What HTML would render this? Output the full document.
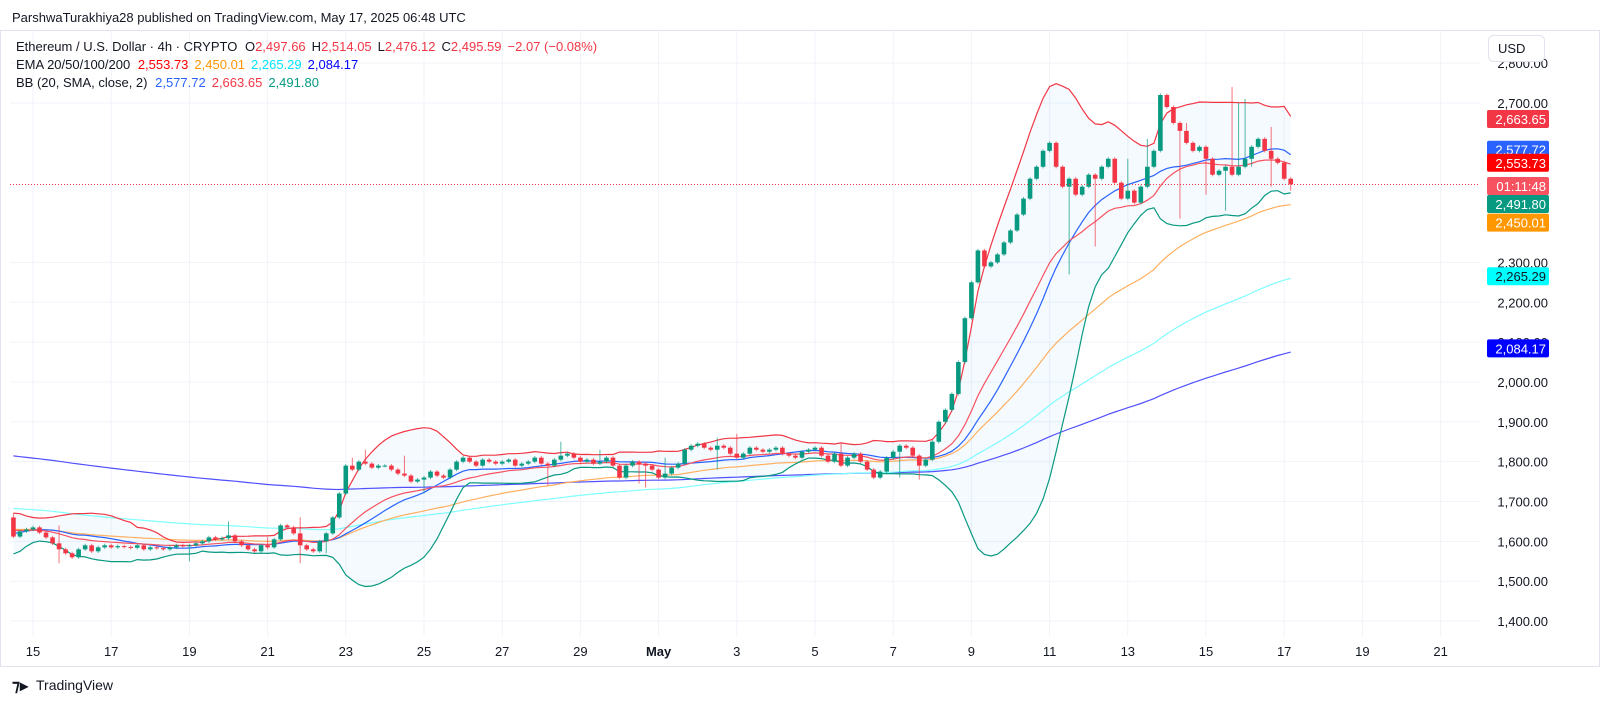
<!DOCTYPE html>
<html><head><meta charset="utf-8"><style>
body{margin:0;background:#fff;width:1600px;height:718px;overflow:hidden;font-family:"Liberation Sans",sans-serif}
svg{position:absolute;left:0;top:0}
</style></head><body>
<svg id="chart" width="1600" height="718" xmlns="http://www.w3.org/2000/svg">
<text x="12" y="22" font-size="13" fill="#131722">ParshwaTurakhiya28 published on TradingView.com, May 17, 2025 06:48 UTC</text>
<rect x="0.5" y="30.5" width="1599" height="636" fill="none" stroke="#e0e3eb"/>
<g id="grid"></g>
<path id="bbfill" fill="rgba(33,150,243,0.05)"/>
<g id="lines"></g>
<g id="candles"></g>
<line x1="10" x2="1480" y1="184.5" y2="184.5" stroke="#f23645" stroke-dasharray="1,2"/>
<g id="xaxis"></g>
<g id="yaxis"></g>
<g font-size="13">
<text x="16" y="51" fill="#131722">Ethereum / U.S. Dollar · 4h · CRYPTO <tspan dx="4">O</tspan><tspan fill="#f23645">2,497.66</tspan><tspan dx="6">H</tspan><tspan fill="#f23645">2,514.05</tspan><tspan dx="6">L</tspan><tspan fill="#f23645">2,476.12</tspan><tspan dx="6">C</tspan><tspan fill="#f23645">2,495.59</tspan><tspan dx="6" fill="#f23645">−2.07 (−0.08%)</tspan></text>
<text x="16" y="69" fill="#131722">EMA 20/50/100/200 <tspan dx="4" fill="#ff0000">2,553.73</tspan><tspan dx="6" fill="#ff9800">2,450.01</tspan><tspan dx="6" fill="#00e5ff">2,265.29</tspan><tspan dx="6" fill="#0000ff">2,084.17</tspan></text>
<text x="16" y="87" fill="#131722">BB (20, SMA, close, 2) <tspan dx="4" fill="#2962ff">2,577.72</tspan><tspan dx="6" fill="#f23645">2,663.65</tspan><tspan dx="6" fill="#089981">2,491.80</tspan></text>
</g>
<g id="yaxisTop"></g>
<g><rect x="1488.5" y="35.5" width="56" height="26" rx="5" fill="#fff" stroke="#e0e3eb"/><text x="1498" y="53" font-size="13" fill="#131722">USD</text></g>
<g id="tags"></g>
<g><text x="12" y="691" font-size="16" font-weight="bold" fill="#131722">⁊▸</text><text x="36" y="690" font-size="14" fill="#131722">TradingView</text></g>
</svg>
<script>
const warmCloses=[1590,1575,1560,1580,1600,1620,1610,1630,1645,1640,1620,1600,1615,1630,1625,1640,1650,1645,1635,1660];
const closes=[1612,1625,1630,
1635,1622,1610,1595,1580,1570, 1560,1580,1590,1575,1585,1590, 1585,1588,1586,1584,1590,1580,
1585,1583,1580,1585,1590,1588, 1590,1595,1600,1610,1605,1608, 1615,1600,1590,1580,1575,1590,
1585,1605,1640,1635,1620,1590, 1580,1575,1600,1620,1660,1720, 1790,1780,1800,1795,1785,1790,
1790,1780,1770,1765,1750,1755, 1760,1775,1765,1760,1780,1800, 1810,1800,1790,1805,1800,1795,
1800,1805,1790,1795,1800,1810, 1795,1790,1805,1815,1820,1810, 1800,1805,1795,1800,1810,1790,
1760,1790,1800,1795,1790,1780, 1760,1770,1785,1795,1830,1840, 1845,1835,1830,1840,1835,1820,
1810,1820,1835,1830,1825,1830, 1835,1820,1815,1810,1825,1830, 1835,1815,1800,1820,1790,1810,
1820,1800,1780,1760,1775,1810, 1825,1840,1835,1815,1790,1805, 1850,1900,1930,1970,2050,2160,
2250,2330,2290,2300,2320,2350, 2380,2420,2460,2510,2540,2580, 2600,2540,2490,2510,2470,2490,
2520,2510,2540,2560,2500,2460, 2480,2450,2490,2540,2580,2720, 2690,2650,2630,2600,2580,2590,
2560,2520,2530,2540,2520,2540, 2560,2590,2610,2580,2560,2550, 2510,2496];
const firstOpen=1660;
const wickHigh={0:1670,7:1640,33:1650,39:1610,44:1660,50:1690,52:1810,54:1830,60:1815,84:1850,90:1830,100:1810,108:1860,111:1870,127:1845,146:1850,150:1860,158:2240,160:2490,162:2350,171:2560,174:2610,180:2650,187:2740,188:2700,189:2710,193:2640,195:2530};
const wickLow={7:1545,27:1550,39:1580,44:1545,46:1580,48:1570,63:1720,82:1740,96:1745,97:1735,108:1780,136:1760,139:1755,162:2270,166:2340,179:2410,183:2470,186:2430,190:2540,193:2490,196:2480};
const yTicks=[2800,2700,2300,2200,2100,2000,1900,1800,1700,1600,1500,1400];
const dayLabels=["15","17","19","21","23","25","27","29","May","3","5","7","9","11","13","15","17","19","21"];
const dayOffsets=[0,2,4,6,8,10,12,14,16,18,20,22,24,26,28,30,32,34,36];
const tagValues=["2,663.65","2,577.72","2,553.73","01:11:48","2,491.80","2,450.01","2,265.29","2,084.17"];
const tagPrices=[2663.65,2577.72,2553.73,2495.59,2491.8,2450.01,2265.29,2084.17];
const tagColors=["#f23645","#2962ff","#ff0000","#f7525f","#089981","#ff9800","#00ffff","#0000ff"];
const tagOffsets=[1.5,-2,1.5,1.5,18,20,0,0];

const NS="http://www.w3.org/2000/svg";
const y=p=>103+(2700-p)*0.3985;
const dayW=39.1, step=dayW/6;
const x=i=>33+(i-3)*step;
function el(t,a,parent){const e=document.createElementNS(NS,t);for(const k in a)e.setAttribute(k,a[k]);parent.appendChild(e);return e;}
const grid=document.getElementById('grid');
yTicks.forEach(v=>{const l=el('line',{x1:10,x2:1480,y1:y(v),y2:y(v),stroke:'#f0f3fa'},grid);

});
dayOffsets.forEach(d=>{const l=el('line',{x1:33+d*dayW,x2:33+d*dayW,y1:31,y2:636,stroke:'#f0f3fa'},grid);

});
const all=warmCloses.concat(closes);const W=warmCloses.length;
function ema(n,seed){let e=seed;const a=2/(n+1);const out=[];all.forEach(c=>{e=c*a+e*(1-a);out.push(e);});return out.slice(W);}
const e20=ema(20,1625),e50=ema(50,1640),e100=ema(100,1715),e200=ema(200,1860);
const mid=[],up=[],lo=[];
for(let i=0;i<closes.length;i++){const s=all.slice(i+W-19,i+W+1);const m=s.reduce((a,b)=>a+b,0)/20;const sd=Math.sqrt(s.reduce((a,b)=>a+(b-m)*(b-m),0)/20);mid.push(m);up.push(m+2*sd);lo.push(m-2*sd);}
const pts=arr=>arr.map((v,i)=>x(i).toFixed(1)+','+y(v).toFixed(1)).join(' ');
document.getElementById('bbfill').setAttribute('d','M'+pts(up)+' L'+lo.map((v,i)=>[i,v]).reverse().map(([i,v])=>x(i).toFixed(1)+','+y(v).toFixed(1)).join(' ')+'Z');
const lines=document.getElementById('lines');
[[e200,'#5050ff','ema-200'],[e100,'#7fffff','ema-100'],[e50,'#ffb060','ema-50'],[up,'#f23645','bb-upper'],[lo,'#089981','bb-lower'],[mid,'#2962ff','bb-basis'],[e20,'#f7525f','ema-20']].forEach(([a,c,n])=>{
const p=el('polyline',{points:pts(a),fill:'none',stroke:c,'stroke-width':1.2},lines);

});
const cg=document.getElementById('candles');
closes.forEach((c,i)=>{const o=i?closes[i-1]:firstOpen;const hi=Math.max(wickHigh[i]||0,Math.max(o,c)+4);const lw=Math.min(wickLow[i]||1e9,Math.min(o,c)-4);
const col=c>=o?'#089981':'#f23645';const g=el('g',{},cg);


el('line',{x1:x(i),x2:x(i),y1:y(hi),y2:y(lw),stroke:col,'stroke-opacity':0.7},g);
const t=Math.min(y(o),y(c)),h=Math.max(1,Math.abs(y(o)-y(c)));
el('rect',{x:x(i)-2.3,y:t,width:4.6,height:h,fill:col},g);});
const xa=document.getElementById('xaxis');
dayLabels.forEach((d,k)=>{const t=el('text',{x:33+dayOffsets[k]*dayW,y:656,'font-size':13,fill:'#131722','text-anchor':'middle','font-weight':d=='May'?'bold':'normal'},xa);t.textContent=d;

});
const ya=document.getElementById('yaxis');
yTicks.forEach(v=>{const t=el('text',{x:1548,y:y(v)+5,'font-size':13,fill:'#131722','text-anchor':'end'},ya);t.textContent=v.toLocaleString('en-US',{minimumFractionDigits:2});

});
const tg=document.getElementById('tags');
tagValues.forEach((v,k)=>{const cy=y(tagPrices[k])+tagOffsets[k];const g=el('g',{},tg);


el('rect',{x:1487,y:cy-9,width:62,height:18,rx:2,fill:tagColors[k]},g);
const t=el('text',{x:1546,y:cy+5,'font-size':13,fill:k==6?'#131722':'#fff','text-anchor':'end'},g);t.textContent=v;});
</script>
</body></html>
